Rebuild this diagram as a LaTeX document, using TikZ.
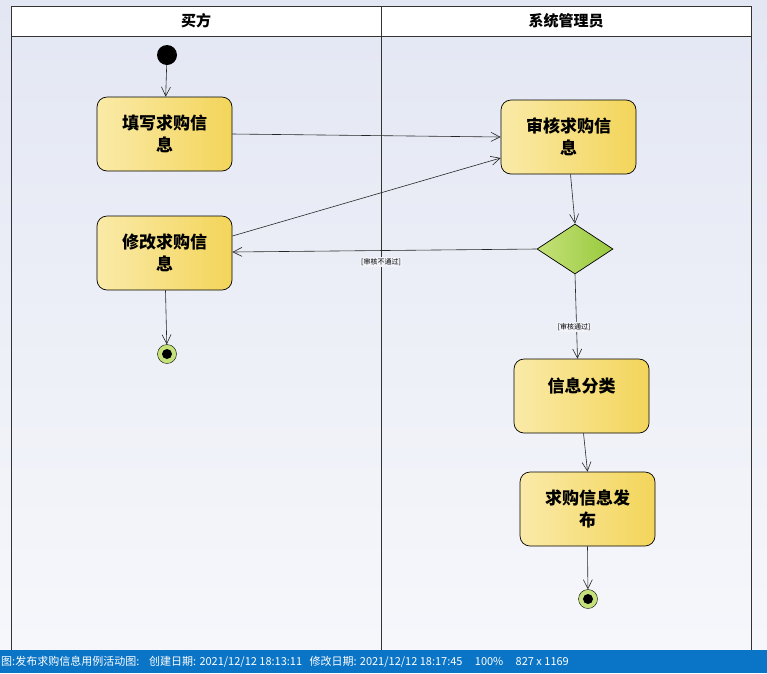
\documentclass[tikz,border=0pt]{standalone}
\usepackage{fontspec}
\setmainfont{Noto Sans CJK SC}
\usetikzlibrary{shapes.geometric,arrows.meta}
\definecolor{bgtop}{HTML}{E3E7F3}
\definecolor{bgbot}{HTML}{F6F7FB}
\definecolor{ya}{HTML}{FAEAA8}
\definecolor{yb}{HTML}{F3D55A}
\definecolor{ga}{HTML}{C5E27A}
\definecolor{gb}{HTML}{98C93C}
\definecolor{bar}{HTML}{0A74C6}
\begin{document}
\begin{tikzpicture}[x=1pt,y=-1pt,
  act/.style={draw=black,line width=0.7pt,rounded corners=10pt,left color=ya,right color=yb,minimum width=135pt,minimum height=74pt,align=center,font=\bfseries\fontsize{17}{22}\selectfont,inner sep=2pt},
  arr/.style={draw=black!85,line width=0.6pt,-{Straight Barb[length=9pt,width=9pt]}},
  lbl/.style={font=\fontsize{7}{8}\selectfont,fill=bgtop!50,inner sep=1pt,text=black}]
\useasboundingbox (0,0) rectangle (767,673);
\fill[top color=bgtop,bottom color=bgbot] (0,0) rectangle (767,650);
\fill[white] (11,6) rectangle (751,36);
\draw[black!80,line width=0.7pt] (11,6) rectangle (751,660);
\draw[black!80,line width=0.7pt] (11,36) -- (751,36);
\draw[black!80,line width=0.7pt] (381,6) -- (381,660);
\node[font=\bfseries\fontsize{15}{17}\selectfont] (h1) at (196,21) {买方};
\node[font=\bfseries\fontsize{15}{17}\selectfont] (h2) at (566,21) {系统管理员};
\fill[bar] (0,650) rectangle (767,673);
\node[anchor=west,text=white,font=\fontsize{11}{12}\selectfont,inner sep=0] (st) at (1,662) {图:发布求购信息用例活动图:\ \ \ \ 创建日期: 2021/12/12 18:13:11\ \ \ 修改日期: 2021/12/12 18:17:45\ \ \ \ \ 100\%\ \ \ \ \ 827 x 1169};

\node[circle,fill=black,minimum size=20pt,inner sep=0] (s) at (167,55) {};
\node[act] (a1) at (164.5,134) {填写求购信\\息};
\node[act] (a2) at (164.5,253) {修改求购信\\息};
\node[act] (a3) at (568.5,137) {审核求购信\\息};
\node[act] (a4) at (581.5,396) {信息分类\\[-2pt]\phantom{息}};
\node[act] (a5) at (587.5,509) {求购信息发\\布};
\node[diamond,draw=black,line width=0.7pt,left color=ga,right color=gb,minimum width=76pt,minimum height=50pt,inner sep=0,aspect=1.52] (d) at (575,249) {};
\node[circle,draw=black,fill=ga,minimum size=19pt,inner sep=0] (e1) at (167,354) {};
\fill[black] (e1) circle (5pt);
\node[circle,draw=black,fill=ga,minimum size=19pt,inner sep=0] (e2) at (588,599) {};
\fill[black] (e2) circle (5pt);

\draw[arr] (s) -- (a1);
\draw[arr] (a1.east) -- (a3.west);
\draw[arr] ([yshift=17pt]a2.east) -- ([yshift=-21pt]a3.west);
\draw[arr] ([xshift=2pt]a3.south) -- (d.north);
\draw[arr] (d.west) -- ([yshift=1pt]a2.east);
\node[lbl] (l1) at (381,262) {[审核不通过]};
\draw[arr] (d.south) -- ([xshift=-4pt]a4.north);
\node[lbl] (l2) at (574,327) {[审核通过]};
\draw[arr] ([xshift=1pt]a2.south) -- (e1);
\draw[arr] ([xshift=2pt]a4.south) -- (a5.north);
\draw[arr] (a5.south) -- (e2);
\end{tikzpicture}
\end{document}
